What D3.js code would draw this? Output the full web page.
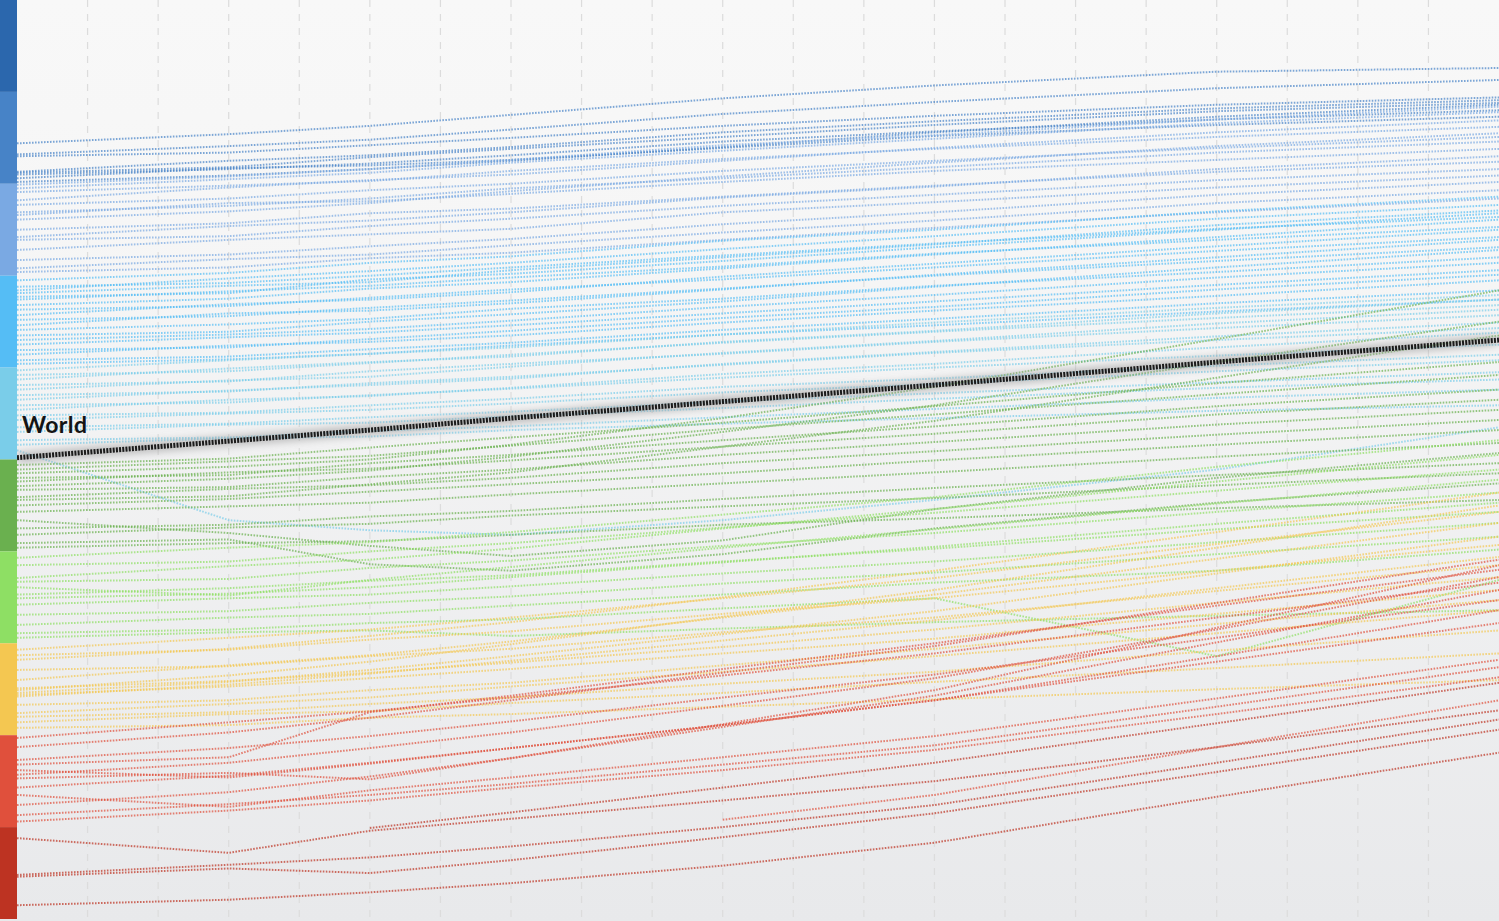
<!DOCTYPE html>
<html>
<head>
<meta charset="utf-8">
<script src="https://cdn.jsdelivr.net/npm/d3@7"></script>
<style>
  body { margin: 0; background: #f8f8f8; }
  svg { display: block; }
</style>
</head>
<body>
<svg id="chart" width="1499" height="921"></svg>
<script>
// years with a reading, all series share them
var years = [1995, 1998, 2000, 2002, 2005, 2008, 2012, 2016];
var gridYears = d3.range(1996, 2016);

var world = [50.2, 52.0, 53.2, 54.5, 56.3, 58.1, 60.6, 63.0];

var bandColors = ["#2b67ad", "#4783c7", "#7aa9e3", "#55bdf5", "#7acde9",
                  "#6ab04f", "#8edf64", "#f4c751", "#e0503c", "#bd3322"];

var seriesTop = [
  [84.4, 85.4, 86.3, 87.5, 89.3, 90.7, 92.2, 92.6],
  [83.2, 84.1, 84.8, 85.9, 87.6, 88.9, 90.4, 91.3],
  [83.0, 83.4, 84.2, 85.0, 86.3, 87.4, 88.6, 89.4],
  [81.3, 82.5, 83.1, 84.0, 85.6, 86.8, 88.2, 89.1],
  [81.2, 81.8, 82.9, 83.8, 85.1, 86.4, 87.9, 88.8],
  [81.0, 81.6, 82.2, 83.1, 84.6, 85.7, 87.0, 88.0],
  [80.6, 81.7, 82.0, 82.6, 83.9, 85.2, 86.4, 87.3],
  [80.2, 80.9, 81.6, 82.5, 84.0, 85.6, 87.3, 88.6]
];

var seriesHigh = [
  [79.9, 80.8, 81.6, 82.6, 84.2, 85.3, 87.0, 88.4],
  [79.5, 80.5, 81.2, 82.3, 83.6, 84.9, 86.6, 87.8],
  [79.1, 79.8, 80.3, 81.4, 82.7, 83.8, 85.1, 86.2],
  [78.2, 79.6, 80.4, 81.0, 82.5, 83.9, 85.6, 86.9],
  [77.7, 78.4, 79.3, 80.0, 81.4, 82.5, 83.9, 85.1],
  [76.9, 77.6, 78.4, 79.5, 80.6, 81.8, 83.4, 84.6],
  [76.6, 77.9, 78.1, 78.9, 80.2, 81.4, 82.6, 83.8],
  [76.1, 77.0, 77.9, 79.2, 80.8, 82.3, 84.1, 85.5],
  [75.0, 75.7, 76.8, 77.3, 78.6, 79.8, 81.3, 82.4],
  [74.2, 75.4, 76.0, 76.9, 78.5, 79.7, 81.6, 83.0],
  [73.9, 74.3, 75.4, 76.2, 77.6, 78.8, 80.4, 81.6],
  [72.8, 73.9, 74.5, 75.1, 76.9, 78.0, 79.6, 80.9],
  [71.7, 72.3, 73.2, 74.0, 75.6, 76.9, 78.8, 80.2],
  [70.8, 71.8, 72.3, 73.3, 74.7, 76.0, 77.9, 79.3],
  [70.4, 70.9, 71.9, 72.5, 73.9, 75.2, 76.9, 78.4]
];

var seriesUpperMid = [
  [69.5, 70.3, 71.4, 72.1, 73.8, 75.0, 77.0, 78.6],
  [68.8, 69.2, 70.0, 70.9, 72.2, 73.5, 75.1, 76.4],
  [68.4, 69.7, 70.5, 71.4, 72.9, 74.3, 76.2, 77.7],
  [68.1, 68.9, 69.3, 70.6, 72.0, 73.4, 75.5, 77.1],
  [67.7, 68.1, 69.6, 70.2, 71.6, 73.1, 75.0, 76.8],
  [67.4, 68.3, 68.9, 69.8, 71.0, 72.4, 73.9, 75.3],
  [66.8, 67.5, 68.6, 69.3, 70.8, 72.3, 74.2, 76.1],
  [66.3, 66.7, 67.6, 68.5, 69.6, 70.9, 72.7, 74.2],
  [65.7, 66.9, 67.4, 68.2, 69.9, 71.3, 73.2, 75.0],
  [65.2, 65.6, 66.5, 67.3, 68.6, 70.0, 71.6, 73.1],
  [64.6, 65.9, 66.2, 67.0, 68.5, 70.1, 72.0, 73.9],
  [64.1, 64.7, 65.3, 66.4, 67.5, 68.9, 70.4, 72.0],
  [63.5, 63.9, 65.0, 65.8, 67.2, 68.8, 70.9, 72.8],
  [63.0, 63.6, 64.2, 65.1, 66.6, 67.9, 69.8, 71.4],
  [62.5, 63.3, 63.8, 64.6, 65.9, 67.2, 69.0, 70.6],
  [61.9, 62.2, 63.1, 64.0, 65.4, 66.6, 68.5, 70.1],
  [61.4, 62.4, 62.8, 63.5, 64.9, 66.2, 67.8, 69.5],
  [60.8, 61.2, 62.0, 62.7, 64.1, 65.3, 67.0, 68.4],
  [60.4, 60.9, 61.5, 62.4, 63.6, 64.6, 66.1, 67.4]
];

var seriesMid = [
  [59.7, 60.8, 61.5, 62.2, 63.6, 64.9, 66.5, 67.9],
  [59.2, 59.6, 60.5, 61.4, 62.7, 63.9, 65.4, 66.8],
  [58.7, 59.9, 60.6, 61.2, 62.8, 64.0, 65.9, 67.4],
  [58.1, 58.5, 59.6, 60.4, 61.5, 62.8, 64.3, 65.7],
  [57.6, 58.6, 59.0, 60.1, 61.6, 62.9, 64.8, 66.3],
  [57.0, 57.4, 58.3, 59.0, 60.3, 61.6, 63.0, 64.3],
  [56.5, 57.5, 58.1, 58.8, 60.4, 61.7, 63.4, 64.9],
  [55.9, 56.2, 57.0, 57.7, 58.9, 60.0, 61.3, 62.5],
  [55.4, 56.5, 56.9, 57.8, 59.3, 60.4, 62.2, 63.8],
  [54.8, 55.1, 55.9, 56.6, 57.9, 58.8, 60.2, 61.4],
  [54.3, 55.0, 55.4, 56.1, 57.3, 58.2, 59.6, 60.8],
  [53.5, 53.9, 54.6, 55.2, 56.3, 57.2, 58.4, 59.5],
  [53.0, 53.8, 54.0, 54.7, 55.6, 56.6, 57.8, 58.7],
  [52.1, 52.4, 53.1, 53.6, 54.6, 55.5, 56.7, 57.6],
  [51.6, 52.3, 52.5, 53.2, 53.9, 54.5, 55.3, 55.9],
  [51.0, 43.4, 42.3, 41.8, 43.4, 45.6, 48.9, 53.5]
];

var seriesLowerMid = [
  [49.4, 50.1, 51.3, 52.4, 54.0, 55.8, 58.3, 60.6],
  [48.9, 49.8, 50.4, 51.5, 53.3, 54.9, 57.1, 59.2],
  [48.5, 49.2, 50.0, 51.6, 54.5, 57.9, 63.1, 68.4],
  [48.0, 48.3, 49.6, 50.5, 52.1, 53.6, 55.8, 57.6],
  [47.6, 48.6, 49.0, 49.9, 51.4, 52.8, 54.9, 56.5],
  [47.1, 47.9, 48.8, 50.3, 53.0, 55.9, 60.6, 65.0],
  [46.7, 47.0, 48.1, 48.9, 50.5, 51.9, 53.8, 55.4],
  [45.9, 46.8, 47.2, 48.0, 49.6, 50.9, 52.7, 54.3],
  [45.6, 46.0, 47.3, 48.6, 51.4, 54.2, 58.9, 63.5],
  [45.0, 45.7, 46.5, 47.3, 48.5, 49.9, 51.6, 53.2],
  [44.3, 44.9, 45.3, 46.2, 47.4, 48.6, 50.3, 51.8],
  [43.4, 42.0, 40.6, 39.5, 41.2, 44.6, 48.0, 50.7],
  [42.5, 42.9, 43.8, 44.4, 45.7, 46.9, 48.3, 49.6],
  [41.8, 42.6, 43.0, 43.9, 44.9, 45.8, 47.2, 48.5],
  [40.9, 41.3, 38.6, 37.9, 39.7, 42.5, 45.3, 47.4],
  [40.4, 40.9, 41.1, 41.8, 42.9, 43.6, 44.7, 45.6]
];

var seriesLow = [
  [39.3, 40.4, 41.0, 42.1, 44.0, 45.9, 49.2, 52.1],
  [38.5, 38.9, 40.0, 40.9, 42.6, 44.2, 46.6, 48.9],
  [37.1, 38.4, 39.1, 40.3, 42.5, 44.6, 47.6, 50.5],
  [36.7, 37.0, 38.2, 39.0, 40.6, 42.0, 44.3, 46.4],
  [36.1, 35.2, 36.9, 38.3, 40.4, 42.4, 45.2, 47.8],
  [35.3, 36.0, 36.8, 37.4, 38.9, 40.3, 42.4, 44.3],
  [34.9, 35.4, 36.1, 37.2, 38.8, 40.5, 43.0, 45.3],
  [34.2, 34.9, 35.3, 36.2, 37.6, 38.9, 41.0, 43.1],
  [33.1, 33.5, 34.4, 35.1, 36.5, 37.7, 39.7, 41.6],
  [32.0, 32.8, 33.2, 34.1, 35.3, 36.6, 37.9, 40.2],
  [31.1, 31.5, 32.2, 32.6, 33.8, 34.9, 28.6, 36.9],
  [30.6, 31.2, 31.4, 30.8, 31.6, 32.3, 33.0, 33.6]
];

var seriesLower = [
  [29.3, 30.6, 31.5, 32.8, 34.9, 37.1, 40.8, 44.3],
  [28.7, 29.3, 30.4, 31.3, 33.2, 34.9, 37.9, 40.7],
  [28.2, 29.4, 30.8, 32.3, 35.0, 37.9, 42.1, 46.4],
  [27.1, 27.5, 28.6, 29.4, 31.2, 32.8, 35.7, 38.5],
  [26.0, 27.6, 28.7, 30.2, 32.8, 35.3, 39.2, 43.1],
  [25.1, 25.9, 26.8, 27.9, 29.6, 31.5, 34.4, 37.2],
  [24.9, 26.5, 28.0, 29.9, 32.9, 35.8, 40.4, 45.0],
  [24.6, 25.8, 27.1, 28.6, 31.0, 33.5, 37.6, 41.6],
  [24.4, 25.3, 26.2, 27.2, 28.9, 30.5, 33.2, 35.8],
  [24.2, 25.5, 26.7, 28.1, 30.3, 32.5, 36.0, 39.4],
  [23.3, 23.8, 24.9, 25.7, 27.6, 29.4, 32.1, 34.7],
  [22.4, 23.4, 24.1, 25.3, 26.9, 28.6, 31.1, 33.6],
  [22.0, 22.5, 23.4, 24.1, 25.6, 26.9, 29.2, 31.4],
  [21.4, 22.3, 22.6, 23.5, 24.6, 25.8, 27.3, 28.9],
  [20.8, 21.1, 21.9, 22.3, 23.1, 23.9, 25.0, 26.0]
];

var seriesPoor = [
  [19.7, 21.4, 22.6, 24.1, 26.5, 28.9, 32.8, 36.6],
  [18.7, 20.3, 21.9, 23.8, 26.8, 29.7, 34.4, 39.1],
  [17.3, 18.6, 19.9, 21.5, 24.1, 26.6, 30.6, 34.7],
  [16.8, 17.6, 22.5, 24.3, 27.2, 30.0, 34.1, 38.0],
  [16.2, 15.4, 16.9, 18.6, 21.1, 23.8, 28.0, 32.2],
  [15.7, 17.0, 18.6, 20.3, 23.2, 26.2, 31.5, 37.2],
  [15.3, 15.9, 15.2, 17.5, 20.9, 24.3, 30.1, 35.8],
  [14.3, 15.6, 17.0, 18.6, 21.1, 23.8, 28.6, 33.6],
  [13.5, 12.2, 14.0, 15.4, 17.6, 19.9, 24.0, 28.2],
  [12.4, 13.8, 15.5, 17.5, 21.2, 24.9, 31.7, 38.5],
  [11.3, 12.5, 13.5, 14.7, 16.8, 18.9, 23.1, 27.4],
  [10.6, 11.8, 12.9, 14.3, 16.2, 18.4, 22.3, 26.3],
  [null, null, 9.9, 11.6, 14.3, 17.0, 21.3, 25.7],
  [null, null, null, null, 10.8, 13.5, 18.7, 23.8]
];

var seriesPoorest = [
  [8.8, 7.2, 9.6, 10.9, 12.9, 15.0, 18.7, 22.7],
  [4.8, 5.9, 6.7, 7.9, 10.0, 12.4, 17.0, 21.7],
  [4.6, 5.5, 5.0, 6.4, 8.9, 11.5, 16.0, 20.6],
  [1.5, 2.1, 2.9, 3.9, 5.8, 8.3, 13.3, 18.1]
];

function createChart() {
    var svg = d3.select("#chart"), width = 1499, height = 921, barW = 17;

    var x = d3.scaleLinear()
        .domain([1995, 2016])
        .range([barW, width]);

    var y = d3.scaleLinear()
        .domain([0, 100])
        .range([919, 0]);

    // colour of a line follows the band of its first reading
    var band = d3.scaleThreshold()
        .domain([10, 20, 30, 40, 50, 60, 70, 80, 90])
        .range(bandColors.slice().reverse());

    var defs = svg.append("defs");
    var grad = defs.append("linearGradient")
        .attr("id", "bg")
        .attr("x1", 0).attr("y1", 0).attr("x2", 0).attr("y2", 1);
    grad.append("stop").attr("offset", "0%").attr("stop-color", "#f8f8f8");
    grad.append("stop").attr("offset", "25%").attr("stop-color", "#f6f6f6");
    grad.append("stop").attr("offset", "100%").attr("stop-color", "#e8e9eb");

    defs.append("filter")
        .attr("id", "shadow")
        .attr("x", "-5%").attr("y", "-200%")
        .attr("width", "110%").attr("height", "500%")
        .append("feGaussianBlur")
        .attr("stdDeviation", 4);

    svg.append("rect")
        .attr("width", width)
        .attr("height", height)
        .attr("fill", "url(#bg)");

    svg.append("g")
        .selectAll("line")
        .data(gridYears)
        .enter()
        .append("line")
            .attr("x1", function(d) { return x(d); })
            .attr("x2", function(d) { return x(d); })
            .attr("y1", 0)
            .attr("y2", height)
            .attr("stroke", "#dcdcdc")
            .attr("stroke-width", 1.2)
            .attr("stroke-dasharray", "7,7");

    var all = [].concat(seriesTop, seriesHigh, seriesUpperMid, seriesMid,
        seriesLowerMid, seriesLow, seriesLower, seriesPoor, seriesPoorest);

    var line = d3.line()
        .defined(function(d) { return d != null; })
        .x(function(d, i) { return x(years[i]); })
        .y(function(d) { return y(d); });

    svg.append("g")
        .selectAll("path")
        .data(all)
        .enter()
        .append("path")
            .attr("d", line)
            .attr("fill", "none")
            .attr("stroke", function(d) {
                var first = d.find(function(v) { return v != null; });
                return band(first);
            })
            .attr("stroke-opacity", 0.7)
            .attr("stroke-width", 2)
            .attr("stroke-dasharray", "1.6,1.4");

    // world line with soft grey halo
    svg.append("path")
        .datum(world)
        .attr("d", line)
        .attr("fill", "none")
        .attr("stroke", "#9a9a9a")
        .attr("stroke-opacity", 0.7)
        .attr("stroke-width", 9)
        .attr("filter", "url(#shadow)");

    svg.append("path")
        .datum(world)
        .attr("d", line)
        .attr("fill", "none")
        .attr("stroke", "#1b1b1b")
        .attr("stroke-width", 5)
        .attr("stroke-dasharray", "2,1.2");

    svg.append("text")
        .attr("x", 22)
        .attr("y", y(world[0]) - 25)
        .attr("font-family", "Lato, 'Open Sans', sans-serif")
        .attr("font-weight", 700)
        .attr("font-size", 23)
        .attr("letter-spacing", 0.4)
        .attr("fill", "#141414")
        .text("World");

    // colour key on the left edge
    svg.append("g")
        .selectAll("rect")
        .data(bandColors)
        .enter()
        .append("rect")
            .attr("x", 0)
            .attr("width", barW)
            .attr("y", function(d, i) { return y(100 - i * 10); })
            .attr("height", function(d, i) { return y(90 - i * 10) - y(100 - i * 10); })
            .attr("fill", function(d) { return d; });
}

createChart();
</script>
</body>
</html>
